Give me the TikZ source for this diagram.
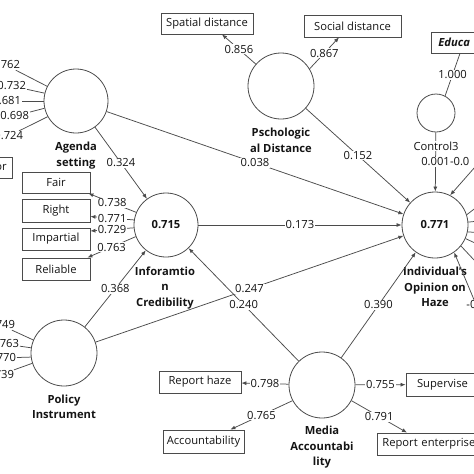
\documentclass[tikz,border=0pt]{standalone}
\usepackage{fontspec}
\setmainfont{Open Sans}
\usetikzlibrary{arrows.meta,calc}
\definecolor{lc}{RGB}{75,75,75}
\definecolor{tc}{RGB}{20,20,20}
\begin{document}
\begin{tikzpicture}[x=1pt,y=-1pt,
  every node/.style={font=\fontsize{11.2}{15.5}\selectfont, text=tc},
  lv/.style={circle, draw=lc, line width=0.8pt, minimum size=#1, inner sep=0pt},
  ind/.style={draw=lc, line width=0.8pt, inner sep=0pt},
  lbl/.style={fill=white, inner sep=0.8pt},
  cname/.style={font=\fontsize{11.2}{15.5}\selectfont\bfseries, align=center, inner sep=0pt},
  arr/.style={draw=lc, line width=0.75pt, -{Latex[length=5pt,width=4pt]}},
  ln/.style={draw=lc, line width=0.75pt}]
\useasboundingbox (0,0) rectangle (474,474);
\clip (0,0) rectangle (474,474);

% latent constructs
\node[lv=64pt] (AS) at (76,101) {};
\node[lv=66pt] (PD) at (281,86) {};
\node[lv=38pt] (C3) at (436,113) {};
\node[lv=64pt] (IC) at (166,225) {\bfseries 0.715};
\node[lv=66pt] (IO) at (435,225) {\bfseries 0.771};
\node[lv=66pt] (PI) at (64,353) {};
\node[lv=66pt] (MA) at (322,385) {};

% indicators
\node[ind, minimum width=92pt, minimum height=21pt] (SPD) at (207,23.5) {Spatial distance};
\node[ind, minimum width=97pt, minimum height=22pt] (SOD) at (352.5,26) {Social distance};
\node[ind, anchor=west, minimum height=21pt, text width=66pt, inner xsep=7pt, align=left,
      font=\fontsize{11.2}{15.5}\selectfont\bfseries\itshape] (EDU) at (431,42.5) {Educa};
\node[ind, anchor=east, minimum height=21pt, text width=54pt, inner xsep=6pt, align=right] (BEH) at (13,167.5) {or};
\node[ind, minimum width=68pt, minimum height=21pt] (FAIR) at (56,182.5) {Fair};
\node[ind, minimum width=68pt, minimum height=23pt] (RIGHT) at (56,210.5) {Right};
\node[ind, minimum width=68pt, minimum height=22pt] (IMP) at (56,239) {Impartial};
\node[ind, minimum width=68pt, minimum height=22pt] (REL) at (56,269) {Reliable};
\node[ind, minimum width=82pt, minimum height=22pt] (RH) at (200,382) {Report haze};
\node[ind, minimum width=81pt, minimum height=23pt] (ACC) at (203.5,441.5) {Accountability};
\node[ind, minimum width=73pt, minimum height=23pt] (SUP) at (442.5,384.5) {Supervise};
\node[ind, anchor=west, minimum height=22pt, text width=100pt, inner xsep=5pt, align=left] (REP) at (377,444) {Report enterprise};

% construct names
\node[cname] (ASn) at (76,155.5) {Agenda\\setting};
\node[cname] (PDn) at (281,140.5) {Pschologic\\al Distance};
\node[cname] (ICn) at (165,288) {Inforamtio\\n\\Credibility};
\node[cname] (IOn) at (435,287) {Individual's\\Opinion on\\Haze};
\node[cname] (PIn) at (64,407) {Policy\\Instrument};
\node[cname] (MAn) at (322,447.5) {Media\\Accountabi\\lity};

% off-picture ends
\coordinate (r1) at (490,197);
\coordinate (r2) at (490,220);
\coordinate (r3) at (490,233);
\coordinate (r4) at (490,250);
\coordinate (r5) at (490,277);
\coordinate (ctlA) at (490,150);
\coordinate (ctlB) at (480,314);

% structural paths
\draw[arr] (AS) -- node[lbl]{0.324} (IC);
\draw[arr] (AS) -- node[lbl]{0.038} (IO);
\draw[arr] (PD) -- node[lbl]{0.152} (IO);
\draw[arr] (IC) -- node[lbl]{0.173} (IO);
\draw[arr] (PI) -- node[lbl]{0.368} (IC);
\draw[arr] (PI) -- node[lbl]{0.247} (IO);
\draw[arr] (MA) -- node[lbl]{0.240} (IC);
\draw[arr] (MA) -- node[lbl]{0.390} (IO);
\draw[arr] (C3) -- node[lbl]{0.001} (IO);
\draw[arr] (ctlA) -- (IO.63);
\draw[arr] (ctlB) -- node[lbl,pos=0.15]{-0.0} (IO.-55);

% outer loadings
\draw[arr] (IC.157) -- node[lbl]{0.738} ($(FAIR.south east)+(-2,0)$);
\draw[arr] (IC.171) -- node[lbl]{0.771} ($(RIGHT.east)+(0,6)$);
\draw[arr] (IC.185) -- node[lbl]{0.729} ($(IMP.east)+(0,-8)$);
\draw[arr] (IC.201) -- node[lbl]{0.763} ($(REL.north east)+(-3,0)$);
\draw[arr] (PD.139) -- node[lbl]{0.856} ($(SPD.south)+(15,0)$);
\draw[arr] (PD.31) -- node[lbl]{0.867} ($(SOD.south)+(-13.5,0)$);
\draw[ln] (C3.62) -- node[lbl]{1.000} ($(EDU.south west)+(29,0)$);
\draw[arr] (MA) -- node[lbl]{0.798} (RH);
\draw[arr] (MA.208) -- node[lbl]{0.765} ($(ACC.north east)+(-14,0)$);
\draw[arr] (MA) -- node[lbl]{0.755} (SUP);
\draw[arr] (MA.-28) -- node[lbl]{0.791} ($(REP.north west)+(30,0)$);

\draw[arr] (IO.18) -- (r1);
\draw[arr] (IO.5) -- (r2);
\draw[arr] (IO.-12) -- (r3);
\draw[arr] (IO.-24) -- (r4);
\draw[arr] (IO.-39) -- (r5);

% agenda setting loadings (cut by the picture edge)
\node[lbl, anchor=east] (a1) at (21,65) {0.762};
\node[lbl, anchor=east] (a2) at (27,86) {0.732};
\node[lbl, anchor=east] (a3) at (22,101) {0.681};
\node[lbl, anchor=east] (a4) at (30,116) {0.698};
\node[lbl, anchor=east] (a5) at (24,136) {0.724};
\draw[ln] (AS.153) -- (a1);
\draw[ln] (AS.166) -- (a2);
\draw[ln] (AS.180) -- (a3);
\draw[ln] (AS.193) -- (a4);
\draw[ln] (AS.209) -- (a5);

% policy instrument loadings (cut by the picture edge)
\node[lbl, anchor=east] (p1) at (16,325) {0.749};
\node[lbl, anchor=east] (p2) at (20,344) {0.763};
\node[lbl, anchor=east] (p3) at (17,358) {0.770};
\node[lbl, anchor=east] (p4) at (15,375) {0.739};
\draw[ln] (PI.157) -- (p1);
\draw[ln] (PI.171) -- (p2);
\draw[ln] (PI.187) -- (p3);
\draw[ln] (PI.198) -- (p4);

% control labels
\node[lbl] (c3n) at (436,146) {Control3};
\node[lbl, anchor=west] (m1) at (449,162) {-0.0};
\end{tikzpicture}
\end{document}
